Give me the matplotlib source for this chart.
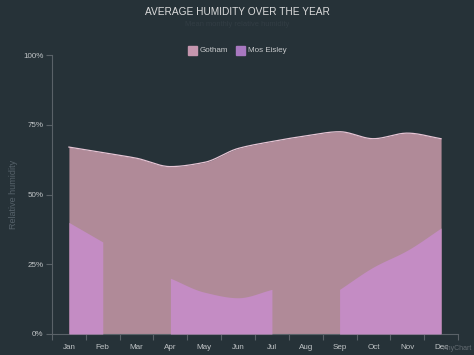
import numpy as np
import matplotlib.pyplot as plt
from matplotlib.ticker import FixedLocator, FuncFormatter

plt.rcParams['font.family'] = ['Liberation Sans', 'DejaVu Sans']

months = ['Jan', 'Feb', 'Mar', 'Apr', 'May', 'Jun', 'Jul', 'Aug', 'Sep', 'Oct', 'Nov', 'Dec']
gotham = [67, 65, 63, 60, 61.5, 66.5, 69, 71, 72.5, 70, 72, 70]
mos_eisley = [40, 33, None, 20, 15, 13, 16, None, 16, 24, 30, 38]

bg = '#263238'
gotham_fill = '#b08a98'
gotham_line = '#e6c4d4'
mos_fill = '#c48cc4'


def smooth(xs, ys, n=40):
    # monotone cubic (Fritsch-Carlson) so the area keeps a soft edge
    xs = np.asarray(xs, float)
    ys = np.asarray(ys, float)
    if len(xs) < 3:
        return xs, ys
    h = np.diff(xs)
    d = np.diff(ys) / h
    m = np.zeros(len(xs))
    m[0], m[-1] = d[0], d[-1]
    for i in range(1, len(xs) - 1):
        if d[i - 1] * d[i] <= 0:
            m[i] = 0
        else:
            m[i] = 2 / (1 / d[i - 1] + 1 / d[i])
    out_x, out_y = [], []
    for i in range(len(xs) - 1):
        t = np.linspace(0, 1, n)
        h00 = 2 * t**3 - 3 * t**2 + 1
        h10 = t**3 - 2 * t**2 + t
        h01 = -2 * t**3 + 3 * t**2
        h11 = t**3 - t**2
        out_x.extend(xs[i] + t * h[i])
        out_y.extend(h00 * ys[i] + h10 * h[i] * m[i] + h01 * ys[i + 1] + h11 * h[i] * m[i + 1])
    return np.array(out_x), np.array(out_y)


def segments(vals):
    seg = []
    for i, v in enumerate(vals):
        if v is None:
            if seg:
                yield seg
            seg = []
        else:
            seg.append((i, v))
    if seg:
        yield seg


fig = plt.figure(figsize=(4.74, 3.55), dpi=100, facecolor=bg)
ax = fig.add_axes([52 / 474, 21 / 355, 406 / 474, 279 / 355], facecolor=bg)

for seg in segments(gotham):
    sx, sy = smooth([p[0] for p in seg], [p[1] for p in seg])
    ax.fill_between(sx, 0, sy, color=gotham_fill, lw=0, zorder=2)
    ax.plot(sx, sy, color=gotham_line, lw=0.9, zorder=4)

for seg in segments(mos_eisley):
    sx, sy = smooth([p[0] for p in seg], [p[1] for p in seg])
    ax.fill_between(sx, 0, sy, color=mos_fill, lw=0, zorder=3)

ax.set_xlim(-0.5, 11.5)
ax.set_ylim(0, 100)

ax.set_xticks(range(12))
ax.set_xticklabels(months)
ax.xaxis.set_minor_locator(FixedLocator(np.arange(-0.5, 12, 1)))
ax.tick_params(axis='x', which='major', length=0, pad=7, labelsize=5.8, labelcolor='#c0c4c6')
ax.tick_params(axis='x', which='minor', length=4, color='#5a6268', width=0.8)

ax.set_yticks([0, 25, 50, 75, 100])
ax.yaxis.set_major_formatter(FuncFormatter(lambda v, p: '%d%%' % v))
ax.tick_params(axis='y', length=4, color='#5a6268', width=0.8, labelsize=5.8, labelcolor='#c0c4c6', pad=2)

for s in ['top', 'right']:
    ax.spines[s].set_visible(False)
for s in ['left', 'bottom']:
    ax.spines[s].set_color('#5a6268')
    ax.spines[s].set_linewidth(0.8)

ax.set_ylabel('Relative humidity', color='#56626a', fontsize=6.5)
ax.yaxis.set_label_coords(-0.084, 0.5)

fig.text(0.5, 1 - 12 / 355, 'AVERAGE HUMIDITY OVER THE YEAR', ha='center', va='center',
         color='#dcdcdc', fontsize=7.3)
fig.text(0.5, 1 - 25 / 355, 'Mean monthly relative humidity', ha='center', va='center',
         color='#323d44', fontsize=5.4)

# legend
fig.patches.append(plt.Rectangle((188 / 474, 1 - 55 / 355), 9 / 474, 9 / 355,
                                 transform=fig.transFigure, color='#c596ae', figure=fig))
fig.text(200 / 474, 1 - 50.5 / 355, 'Gotham', va='center', color='#c8cacc', fontsize=5.8)
fig.patches.append(plt.Rectangle((236 / 474, 1 - 55 / 355), 9 / 474, 9 / 355,
                                 transform=fig.transFigure, color='#a878c0', figure=fig))
fig.text(248 / 474, 1 - 50.5 / 355, 'Mos Eisley', va='center', color='#c8cacc', fontsize=5.8)

fig.text(472 / 474, 1 - 349 / 355, 'AnyChart', ha='right', va='center', color='#646c72', fontsize=5)

fig.savefig('out.png', dpi=100, facecolor=bg)
